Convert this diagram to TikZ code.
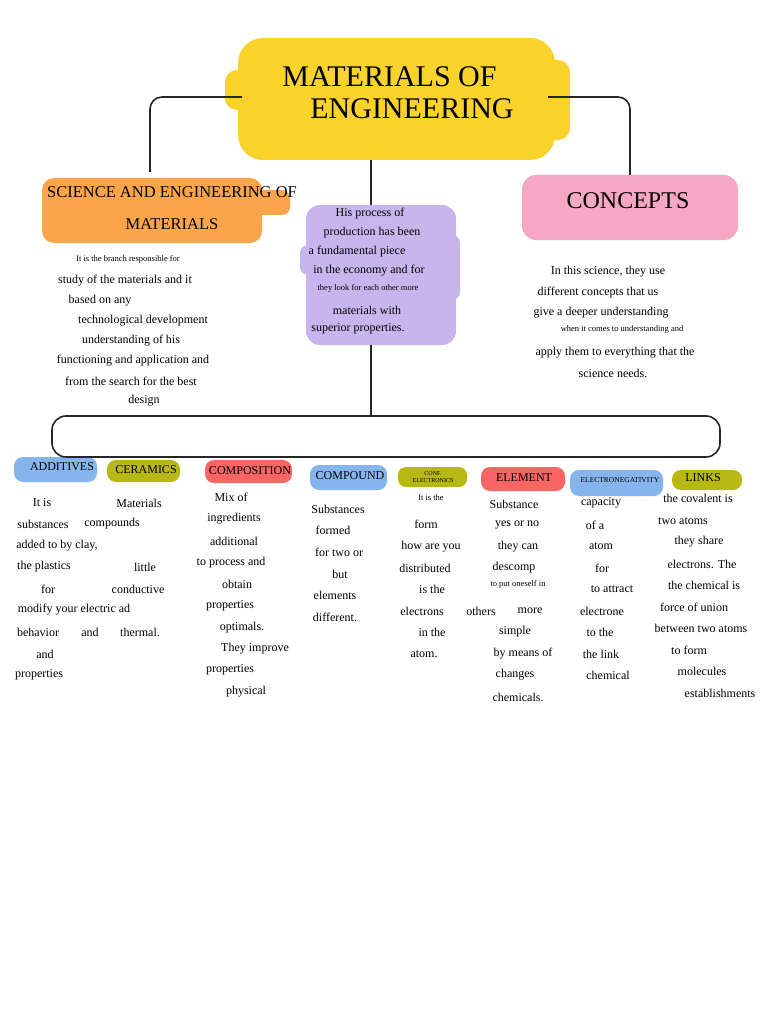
\documentclass[tikz,border=0pt]{standalone}
\usepackage{fontspec}
\setmainfont{Liberation Serif}
\definecolor{cyel}{HTML}{F9D22C}
\definecolor{cora}{HTML}{FBA54A}
\definecolor{cpink}{HTML}{F5A7C4}
\definecolor{cpur}{HTML}{C8B5EE}
\definecolor{cblue}{HTML}{86B5EE}
\definecolor{coli}{HTML}{B8B815}
\definecolor{cred}{HTML}{F76565}
\begin{document}
\begin{tikzpicture}[x=1pt,y=-1pt,
 t/.style={font=\fontsize{12}{14}\selectfont,inner sep=0pt},
 s/.style={font=\fontsize{8.5}{10}\selectfont,inner sep=0pt},
 lab/.style={font=\fontsize{12}{14}\selectfont,inner sep=0pt},
 line/.style={draw=black!85,line width=1.6pt,rounded corners=12pt}]
\useasboundingbox (0,0) rectangle (768,1024);
\fill[white] (0,0) rectangle (768,1024);
% blobs
\fill[cyel,rounded corners=25pt] (238,38) rectangle (555,160);
\fill[cyel,rounded corners=12pt] (225,70) rectangle (260,110);
\fill[cyel,rounded corners=12pt] (530,60) rectangle (570,140);
\fill[cora,rounded corners=12pt] (42,178) rectangle (262,243);
\fill[cora,rounded corners=8pt] (255,190) rectangle (290,215);
\fill[cpink,rounded corners=14pt] (522,175) rectangle (738,240);
\fill[cpur,rounded corners=14pt] (306,205) rectangle (456,345);
\fill[cpur,rounded corners=8pt] (300,245) rectangle (320,275);
\fill[cpur,rounded corners=8pt] (445,235) rectangle (460,300);
\fill[cblue,rounded corners=9pt] (14,457) rectangle (97,482);
\fill[coli,rounded corners=9pt] (107,460) rectangle (180,482);
\fill[cred,rounded corners=9pt] (205,460) rectangle (292,483);
\fill[cblue,rounded corners=9pt] (310,465) rectangle (387,490);
\fill[coli,rounded corners=8pt] (398,467) rectangle (467,487);
\fill[cred,rounded corners=9pt] (481,467) rectangle (565,491);
\fill[cblue,rounded corners=9pt] (570,470) rectangle (663,496);
\fill[coli,rounded corners=9pt] (672,470) rectangle (742,490);
% nodes
\node[font=\fontsize{30}{32}\selectfont,align=left,inner sep=0pt] (title) at (398,93) {MATERIALS OF\\\hspace*{28pt}ENGINEERING};
\node[font=\fontsize{16.5}{32}\selectfont,align=center,inner sep=0pt] (sci) at (172,208) {SCIENCE AND ENGINEERING OF\\MATERIALS};
\node[font=\fontsize{24}{26}\selectfont,inner sep=0pt] (con) at (628,201) {CONCEPTS};
\coordinate (pur) at (371,205);
\coordinate (purb) at (371,345);
% connectors
\draw[line] (150,172) -- (150,97) -- (242,97);
\draw[line] (630,175) -- (630,97) -- (548,97);
\draw[black!85,line width=1.6pt] (371,160) -- (pur);
\draw[black!85,line width=1.6pt] (purb) -- (371,416);
\draw[black!85,line width=1.6pt,rounded corners=14pt] (52,416) rectangle (720,457);
% left text
\node[s] at (128,259) {It is the branch responsible for};
\node[t] at (125,281) {study of the materials and it};
\node[t] at (100,301) {based on any};
\node[t] at (143,321) {technological development};
\node[t] at (131,341) {understanding of his};
\node[t] at (133,361) {functioning and application and};
\node[t] at (131,381) {from the search for the best};
\node[t] at (144,401) {design};
% purple
\node[t] at (370,214) {His process of};
\node[t] at (372,233) {production has been};
\node[t] at (357,252) {a fundamental piece};
\node[t] at (369,271) {in the economy and for};
\node[s] at (368,288) {they look for each other more};
\node[t] at (367,310) {materials with};
\node[t] at (358,329) {superior properties.};
% concepts
\node[t] at (608,272) {In this science, they use};
\node[t] at (598,293) {different concepts that us};
\node[t] at (601,313) {give a deeper understanding};
\node[s] at (622,329) {when it comes to understanding and};
\node[t] at (615,353) {apply them to everything that the};
\node[t] at (613,373) {science needs.};
% labels
\node[lab] (add) at (62,467) {ADDITIVES};
\node[lab] (cer) at (146,470) {CERAMICS};
\node[lab] (comp) at (250,471) {COMPOSITION};
\node[lab] (cpd) at (350,476) {COMPOUND};
\node[font=\fontsize{6}{7}\selectfont,align=center,inner sep=0pt] (cel) at (433,477) {CONF.\\ELECTRONICS};
\node[lab] (ele) at (524,478) {ELEMENT};
\node[font=\fontsize{7.5}{8}\selectfont,inner sep=0pt] (eng) at (620,480) {ELECTRONEGATIVITY};
\node[lab] (lnk) at (703,478) {LINKS};
% additives/ceramics
\node[t] at (42,503) {It is}; \node[t] at (139,503) {Materials};
\node[t] at (43,524) {substances}; \node[t] at (112,524) {compounds};
\node[t] at (57,546) {added to by clay,};
\node[t] at (44,567) {the plastics}; \node[t] at (145,567) {little};
\node[t] at (48,589) {for}; \node[t] at (138,589) {conductive};
\node[t] at (74,610) {modify your electric ad};
\node[t] at (38,632) {behavior}; \node[t] at (90,632) {and}; \node[t] at (140,632) {thermal.};
\node[t] at (45,654) {and};
\node[t] at (39,675) {properties};
% composition
\node[t] at (231,497) {Mix of};
\node[t] at (234,519) {ingredients};
\node[t] at (234,541) {additional};
\node[t] at (231,563) {to process and};
\node[t] at (237,584) {obtain};
\node[t] at (230,606) {properties};
\node[t] at (242,628) {optimals.};
\node[t] at (255,649) {They improve};
\node[t] at (230,670) {properties};
\node[t] at (246,692) {physical};
% compound
\node[t] at (338,509) {Substances};
\node[t] at (333,530) {formed};
\node[t] at (339,552) {for two or};
\node[t] at (340,574) {but};
\node[t] at (335,595) {elements};
\node[t] at (335,617) {different.};
% conf
\node[s] at (431,498) {It is the};
\node[t] at (426,524) {form};
\node[t] at (431,547) {how are you};
\node[t] at (425,568) {distributed};
\node[t] at (432,589) {is the};
\node[t] at (422,611) {electrons};
\node[t] at (432,632) {in the};
\node[t] at (424,654) {atom.};
% element
\node[t] at (514,504) {Substance};
\node[t] at (517,525) {yes or no};
\node[t] at (518,547) {they can};
\node[t] at (514,568) {descomp};
\node[s] at (518,584) {to put oneself in};
\node[t] at (481,611) {others}; \node[t] at (530,611) {more};
\node[t] at (515,632) {simple};
\node[t] at (523,654) {by means of};
\node[t] at (515,675) {changes};
\node[t] at (518,697) {chemicals.};
% electroneg
\node[t] at (601,503) {capacity};
\node[t] at (595,525) {of a};
\node[t] at (601,546) {atom};
\node[t] at (602,568) {for};
\node[t] at (612,589) {to attract};
\node[t] at (602,611) {electrone};
\node[t] at (600,632) {to the};
\node[t] at (601,654) {the link};
\node[t] at (608,675) {chemical};
% links
\node[t] at (698,498) {the covalent is};
\node[t] at (683,521) {two atoms};
\node[t] at (699,542) {they share};
\node[t] at (702,564) {electrons. The};
\node[t] at (704,585) {the chemical is};
\node[t] at (694,607) {force of union};
\node[t] at (701,628) {between two atoms};
\node[t] at (689,650) {to form};
\node[t] at (702,671) {molecules};
\node[t] at (720,693) {establishments};
\end{tikzpicture}
\end{document}
